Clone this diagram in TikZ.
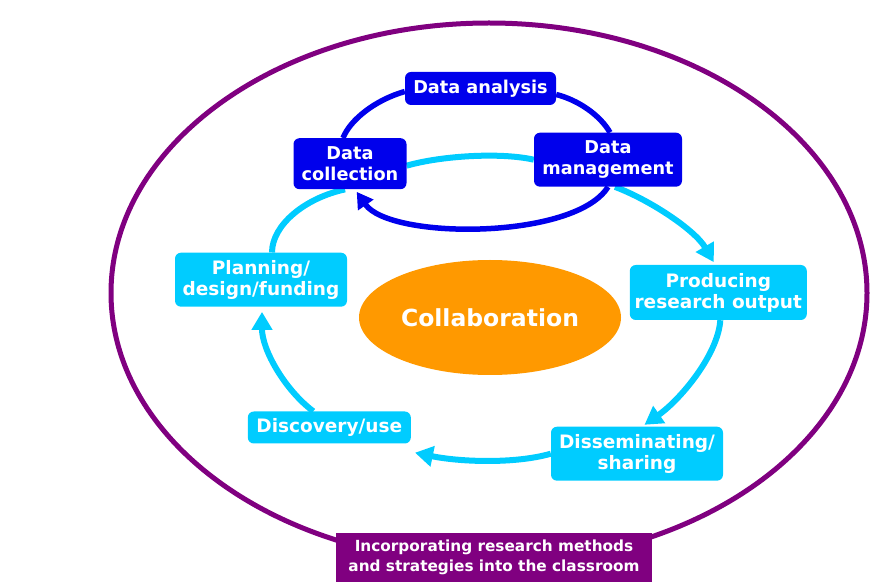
\documentclass[tikz,border=0pt]{standalone}
\usepackage{fontspec}
\setmainfont{DejaVu Sans}
\usetikzlibrary{arrows.meta,backgrounds,shapes.geometric}

\definecolor{cyclecyan}{RGB}{0,204,255}
\definecolor{datablue}{RGB}{0,0,236}
\definecolor{framepurple}{RGB}{128,0,128}
\definecolor{collaborange}{RGB}{255,153,0}

\begin{document}
\begin{tikzpicture}[x=1pt, y=-1pt,
  >={Triangle[length=18pt,width=20pt]},
  box/.style={rounded corners=6pt, inner sep=0pt, align=center, text=white,
    font=\bfseries\fontsize{18.5}{21}\selectfont},
  cyclebox/.style={box, fill=cyclecyan},
  databox/.style={box, fill=datablue, font=\bfseries\fontsize{17.7}{21}\selectfont},
  cycleflow/.style={draw=cyclecyan, line width=6pt},
  dataflow/.style={draw=datablue, line width=5.5pt},
]
\useasboundingbox (0,0) rectangle (871,585);

% ======================= Outer frame =======================
\draw[framepurple, line width=5pt] (489,293) ellipse [x radius=378, y radius=270];
\node[fill=framepurple, text=white, inner sep=0pt, align=center,
  minimum width=316pt, minimum height=49pt,
  font=\bfseries\fontsize{15.3}{20}\selectfont] (classroom) at (494,557.5)
  {Incorporating research methods\\and strategies into the classroom};

% ======================= Centre =======================
\node[ellipse, fill=collaborange, text=white, inner sep=0pt,
  minimum width=262pt, minimum height=115pt,
  font=\bfseries\fontsize{23.5}{28}\selectfont] (collab) at (490,317.5) {Collaboration};

% ======================= Research cycle =======================
\node[cyclebox, minimum width=172pt, minimum height=54pt] (plan) at (261,279.7) {Planning/\\design/funding};
\node[cyclebox, minimum width=177pt, minimum height=55pt] (prod) at (718.3,292.5) {Producing\\research output};
\node[cyclebox, minimum width=172pt, minimum height=54pt] (diss) at (637,453.7) {Disseminating/\\sharing};
\node[cyclebox, minimum width=163pt, minimum height=32pt] (disc) at (329.3,427.5) {Discovery/use};

% ======================= Data loop =======================
\node[databox, minimum width=151pt, minimum height=33pt] (ana) at (480.5,88.5) {Data analysis};
\node[databox, minimum width=113pt, minimum height=51pt] (coll) at (350,163.7) {Data\\collection};
\node[databox, minimum width=148pt, minimum height=54pt] (man) at (608,159.7) {Data\\management};

\begin{scope}[on background layer]
% cycle arrows
\draw[cycleflow] ([xshift=11pt]plan.north) .. controls (272,225) and (305,198) .. ([xshift=-5pt]coll.south);
\draw[cycleflow] ([yshift=-2pt]coll.east) .. controls (440,156) and (500,152) .. (man.west);
\draw[cycleflow, ->, shorten >=3pt] ([xshift=7pt]man.south) .. controls (650,200) and (695,230) .. ([xshift=-3pt]prod.north);
\draw[cycleflow, ->, shorten >=3pt] ([xshift=2pt]prod.south) .. controls (718,355) and (680,400) .. ([xshift=5pt]diss.north);
\draw[cycleflow, ->] (diss.west) .. controls (515,464) and (460,462) .. ([shift={(4,9)}]disc.south east);
\draw[cycleflow, ->, shorten >=5pt] ([xshift=-16pt]disc.north) .. controls (285,390) and (262,350) .. ([xshift=1pt]plan.south);
% data loop arrows
\draw[dataflow] ([xshift=-7pt]coll.north) .. controls (350,120) and (375,100) .. ([yshift=-3pt]ana.west);
\draw[dataflow] ([yshift=-6pt]ana.east) .. controls (578,100) and (600,115) .. ([xshift=2pt]man.north);
\draw[dataflow, -{Triangle[length=16pt,width=18pt]}, shorten >=3pt] (man.south) .. controls (575,240) and (390,240) .. ([xshift=5pt]coll.south);
\end{scope}

\end{tikzpicture}
\end{document}
